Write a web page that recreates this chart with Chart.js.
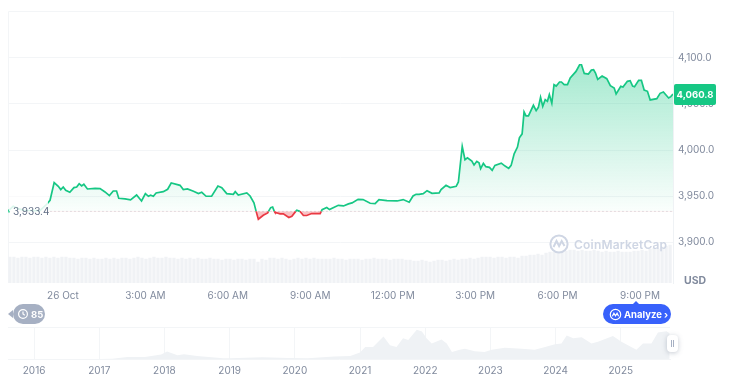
<!DOCTYPE html>
<html>
<head>
<meta charset="utf-8">
<title>ETH / USD</title>
<script src="https://cdn.jsdelivr.net/npm/chart.js@4"></script>
<style>
    html, body { margin: 0; background: #fff; font-family: Inter, sans-serif; }
    #page { position: relative; width: 729px; height: 383px; overflow: hidden; }
    canvas { position: absolute; left: 0; }
    .usd { position: absolute; left: 684px; top: 274px; font-size: 10.5px; font-weight: 700; color: #808a9d; }
    .marca { position: absolute; left: 549px; top: 234px; display: flex; align-items: center; color: #cfd6e4; font-size: 12px; font-weight: 600; letter-spacing: .2px; }
    .marca svg { margin-right: 5px; }
    .pilula { position: absolute; top: 304px; height: 20px; border-radius: 10px; color: #fff; font-size: 9.5px; font-weight: 700; display: flex; align-items: center; box-sizing: border-box; white-space: nowrap; }
    .pilula svg { flex: none; }
    .historico { left: 13px; width: 32px; background: #a6b0c3; padding-left: 4px; }
    .historico:before { content: ""; position: absolute; left: -5px; top: 6px; border: 4px solid transparent; border-left: 0; border-right: 5px solid #a6b0c3; }
    .analise { left: 603px; width: 68px; background: #3861fb; padding-left: 6px; }
    .analise:before { content: ""; position: absolute; left: 30px; top: -3px; border: 3px solid transparent; border-top: 0; border-bottom: 3px solid #3861fb; }
    .alca { position: absolute; left: 667px; top: 335px; width: 11px; height: 17px; background: #fff; border-radius: 4px; box-shadow: 0 1px 5px rgba(88,102,126,.35); }
    .alca:before { content: ""; position: absolute; left: 4px; top: 5px; width: 1px; height: 7px; background: #a6b0c3; box-shadow: 2px 0 0 #a6b0c3; }
</style>
</head>
<body>
<div id="page">
    <canvas id="grafico-preco" width="729" height="302" style="top:0"></canvas>
    <canvas id="grafico-historico" width="729" height="63" style="top:320px"></canvas>
    <div class="usd">USD</div>
    <div class="marca">
        <svg width="20" height="20" viewBox="0 0 20 20" fill="none" stroke="#cfd6e4" stroke-width="2"><circle cx="10" cy="10" r="8.6"/><path d="M4.5 13l3-6 2.6 5 2.6-5 2.8 5"/></svg>
        CoinMarketCap
    </div>
    <div class="pilula historico">
        <svg width="12" height="12" viewBox="0 0 12 12" fill="none" stroke="#fff" stroke-width="1.2"><circle cx="6" cy="6" r="4.4"/><path d="M6 3.4V6l1.8 1.2"/></svg>
        <span style="margin-left:2px">85</span>
    </div>
    <div class="pilula analise">
        <svg width="13" height="13" viewBox="0 0 13 13" fill="none" stroke="#fff" stroke-width="1.2"><circle cx="6.5" cy="6.5" r="5.2"/><path d="M3.4 8.2l1.5-3 1.6 2.6 1.6-2.6 1.5 3"/></svg>
        <span style="margin-left:2px">Analyze &rsaquo;</span>
    </div>
    <div class="alca"></div>
</div>
<script>
// Dados
const horas = [-1.99, -1.81, -1.63, -1.44, -1.08, -0.84, -0.59, -0.47, -0.32, -0.17, -0.08, 0.01, 0.10, 0.25, 0.40, 0.50, 0.59, 0.68, 0.76, 0.89,
    1.17, 1.35, 1.53, 1.69, 1.83, 1.95, 2.03, 2.26, 2.46, 2.68, 2.86, 3.00, 3.11, 3.19, 3.29, 3.39, 3.65, 3.81, 3.94, 4.26,
    4.38, 4.53, 4.75, 4.93, 5.05, 5.21, 5.41, 5.64, 5.78, 5.96, 6.20, 6.27, 6.38, 6.69, 6.81, 6.95, 7.03, 7.11, 7.29, 7.45,
    7.48, 7.56, 7.63, 7.69, 7.71, 7.90, 8.02, 8.22, 8.33, 8.47, 8.51, 8.62, 8.63, 8.75, 8.87, 9.05, 9.36, 9.40, 9.43, 9.60, 9.70, 10.02, 10.21, 10.39, 10.52,
    10.74, 10.92, 11.18, 11.36, 11.50, 11.79, 12.16, 12.38, 12.60, 12.74, 12.85, 12.96, 13.11, 13.25, 13.43, 13.69, 13.76, 13.94, 14.09, 14.31,
    14.39, 14.53, 14.63, 14.72, 14.88, 14.96, 15.06, 15.14, 15.20, 15.30, 15.39, 15.52, 15.62, 15.72, 15.95, 16.09, 16.22, 16.31, 16.42, 16.54,
    16.61, 16.71, 16.78, 16.85, 16.94, 17.12, 17.22, 17.30, 17.38, 17.46, 17.55, 17.63, 17.70, 17.79, 17.87, 17.95, 18.07, 18.14, 18.24, 18.36,
    18.46, 18.67, 18.80, 18.87, 18.97, 19.12, 19.23, 19.31, 19.38, 19.46, 19.62, 19.79, 19.92, 20.06, 20.13, 20.30, 20.38, 20.54, 20.64, 20.73,
    20.80, 20.95, 21.05, 21.15, 21.27, 21.37, 21.61, 21.73, 21.85, 22.04, 22.12, 22.20];

const precos = [3933.9, 3939.0, 3936.4, 3934.6, 3934.2, 3934.2, 3941.1, 3945.4, 3964.6, 3960.6, 3957.0, 3959.9, 3956.3, 3954.1, 3959.2, 3959.9, 3963.5, 3961.0, 3962.8, 3957.7,
    3958.4, 3958.1, 3954.5, 3950.5, 3955.5, 3955.5, 3947.6, 3946.9, 3945.8, 3951.2, 3944.7, 3952.7, 3949.8, 3950.9, 3949.8, 3953.4, 3954.8, 3957.4, 3964.2, 3961.7,
    3957.0, 3957.7, 3955.2, 3952.7, 3954.1, 3949.8, 3949.8, 3961.0, 3959.2, 3952.7, 3951.9, 3954.8, 3951.2, 3953.4, 3950.1, 3942.6, 3933.4, 3924.9, 3929.2, 3931.7,
    3933.4, 3937.5, 3938.2, 3933.4, 3932.5, 3930.7, 3930.7, 3926.7, 3928.1, 3933.4, 3934.6, 3933.4, 3933.2, 3928.9, 3928.9, 3931.0, 3931.0, 3933.4, 3935.3, 3937.5, 3935.3, 3940.0, 3939.3, 3941.5, 3942.6,
    3946.5, 3946.2, 3942.2, 3941.8, 3946.2, 3945.1, 3944.7, 3946.2, 3943.3, 3950.1, 3951.9, 3951.9, 3952.7, 3955.9, 3953.0, 3953.4, 3957.0, 3961.7, 3959.2, 3960.6,
    3965.3, 4003.9, 3989.5, 3991.6, 3988.0, 3983.7, 3987.7, 3986.2, 3979.7, 3985.5, 3981.9, 3981.2, 3977.9, 3983.3, 3985.8, 3982.6, 3980.1, 3983.3, 3995.9, 4003.2,
    4013.3, 4017.6, 4041.4, 4037.1, 4037.1, 4048.6, 4042.8, 4046.4, 4057.3, 4047.5, 4054.7, 4052.9, 4060.2, 4050.8, 4071.0, 4069.5, 4073.9, 4073.9, 4071.0, 4071.0,
    4078.2, 4085.4, 4092.6, 4092.6, 4083.2, 4082.5, 4086.8, 4087.2, 4083.6, 4076.7, 4080.4, 4077.5, 4069.9, 4067.4, 4060.9, 4069.2, 4068.4, 4074.6, 4075.3, 4069.5,
    4068.8, 4075.7, 4075.7, 4065.2, 4063.8, 4054.4, 4055.8, 4061.6, 4063.0, 4056.5, 4058.0, 4060.8];

const precoBase = 3933.4;
const precoAtual = 4060.8;

const volumes = [26, 26, 25, 26, 26, 25, 26, 26, 25, 26, 25, 26, 25, 26, 26, 25, 25, 24, 25, 25,
    24, 25, 24, 24, 25, 24, 25, 24, 25, 25, 24, 25, 26, 25, 24, 25, 26, 25, 25, 26,
    25, 25, 24, 25, 24, 25, 24, 25, 24, 24, 25, 24, 24, 23, 24, 24, 23, 24, 24, 23,
    24, 24, 21, 24, 23, 25, 25, 24, 25, 24, 23, 24, 25, 24, 25, 24, 25, 24, 24, 24,
    24, 25, 24, 24, 23, 24, 24, 24, 23, 24, 24, 25, 24, 24, 24, 23, 24, 24, 24, 23,
    23, 22, 22, 23, 22, 21, 22, 23, 23, 22, 23, 24, 23, 24, 24, 25, 24, 25, 26, 26,
    26, 25, 26, 26, 25, 26, 26, 25, 27, 27, 28, 28, 29, 28, 30, 31, 31, 31, 32, 32,
    33, 33, 32, 33, 32, 32, 33, 32, 31, 32, 31, 31, 32, 31, 31, 31, 32, 32, 33, 32,
    34, 35, 34, 36, 37, 38];
const volumeInicio = -1.93;
const volumePasso = 0.1456;

const ticksHora = [0, 3, 6, 9, 12, 15, 18, 21];
const rotulosHora = ['26 Oct', '3:00 AM', '6:00 AM', '9:00 AM', '12:00 PM', '3:00 PM', '6:00 PM', '9:00 PM'];
const ticksPreco = [3900, 3950, 4000, 4050, 4100];

const anos = [2015.6, 2016.5, 2017.0, 2017.2, 2017.43, 2017.7, 2017.95, 2018.04, 2018.2, 2018.3, 2018.5, 2018.9, 2019.0, 2019.5, 2019.9, 2020.2, 2020.6, 2020.85, 2021.0,
    2021.08, 2021.20, 2021.36, 2021.46, 2021.56, 2021.66, 2021.74, 2021.87, 2021.95, 2022.02, 2022.10, 2022.25, 2022.33, 2022.41, 2022.53, 2022.61, 2022.76, 2022.91,
    2023.02, 2023.22, 2023.48, 2023.68, 2023.84, 2023.99, 2024.09, 2024.17, 2024.27, 2024.40, 2024.55, 2024.65, 2024.88, 2025.01, 2025.11, 2025.24, 2025.34, 2025.47, 2025.57, 2025.70, 2025.75];
const historico = [1, 15, 10, 50, 300, 300, 700, 1150, 600, 750, 450, 120, 130, 270, 140, 130, 380, 450, 1000,
    1870, 1870, 3470, 2130, 1870, 3200, 2930, 4530, 4260, 3200, 2400, 3040, 2400, 1070, 1440, 1600, 1200, 1070,
    1440, 1760, 1600, 1440, 1870, 2300, 2400, 3630, 3200, 3360, 2400, 2670, 3570, 2670, 2130, 1440, 2400, 2400, 4100, 4320, 4000];
const ticksAno = [2016, 2017, 2018, 2019, 2020, 2021, 2022, 2023, 2024, 2025];

const verde = '#16c784';
const vermelho = '#ea3943';
const corTexto = '#808a9d';
const corGrade = '#f3f5f7';
const fonte = 'Inter, sans-serif';

function formatarPreco(valor) {
    return valor.toLocaleString('en-US', { minimumFractionDigits: 1, maximumFractionDigits: 1 });
}

// Gradientes presos na escala de preço
function gradienteVerde(context) {
    const { chart } = context;
    if (!chart.chartArea || !chart.scales.y) return 'rgba(22,199,132,.1)';
    const topo = chart.scales.y.getPixelForValue(Math.max(...precos));
    const base = chart.scales.y.getPixelForValue(precoBase);
    const g = chart.ctx.createLinearGradient(0, topo, 0, base);
    g.addColorStop(0, 'rgba(22,199,132,.38)');
    g.addColorStop(1, 'rgba(22,199,132,.02)');
    return g;
}

// Moldura, etiqueta da base e etiqueta do preço atual
const extras = {
    id: 'extras',
    beforeDatasetsDraw(chart) {
        const { ctx, chartArea: a } = chart;
        ctx.save();
        ctx.strokeStyle = corGrade;
        ctx.lineWidth = 1;
        ctx.beginPath();
        ctx.moveTo(a.left + .5, a.bottom);
        ctx.lineTo(a.left + .5, a.top + .5);
        ctx.lineTo(a.right, a.top + .5);
        ctx.stroke();
        ctx.restore();
    },
    afterDatasetsDraw(chart) {
        const { ctx, chartArea: a, scales } = chart;
        const yBase = scales.y.getPixelForValue(precoBase);
        const yAtual = scales.y.getPixelForValue(precoAtual);
        ctx.save();
        ctx.fillStyle = 'rgba(255,255,255,.85)';
        ctx.fillRect(a.left + 1, yBase - 15, 39, 29);
        ctx.fillStyle = verde;
        ctx.fillRect(a.left, yBase, 2, 1);
        ctx.font = '10px ' + fonte;
        ctx.fillStyle = '#616e85';
        ctx.textBaseline = 'middle';
        ctx.textAlign = 'left';
        ctx.fillText(formatarPreco(precoBase), a.left + 5, yBase + 1);
        ctx.fillStyle = verde;
        ctx.beginPath();
        ctx.roundRect(a.right + 1, yAtual - 10, 42, 21, 2);
        ctx.fill();
        ctx.font = '700 9.5px ' + fonte;
        ctx.fillStyle = '#fff';
        ctx.textAlign = 'center';
        ctx.fillText(formatarPreco(precoAtual), a.right + 22, yAtual + 1);
        ctx.restore();
    }
};

new Chart(document.getElementById('grafico-preco').getContext('2d'), {
    data: {
        datasets: [
            {
                type: 'line',
                data: horas.map((h, i) => ({ x: h, y: precos[i] })),
                borderColor: verde,
                borderWidth: 1.7,
                pointRadius: 0,
                tension: 0,
                backgroundColor: gradienteVerde,
                fill: { target: { value: precoBase }, below: 'rgba(234,57,67,.3)' },
                segment: {
                    borderColor: ctx => (ctx.p0.parsed.y <= precoBase && ctx.p1.parsed.y <= precoBase) ? vermelho : verde
                },
                order: 1
            },
            {
                type: 'line',
                data: [{ x: -0.6, y: precoBase }, { x: 22.2, y: precoBase }],
                borderColor: '#c3c8d2',
                borderWidth: 1,
                borderDash: [1, 3],
                pointRadius: 0,
                fill: false,
                order: 2
            },
            {
                type: 'bar',
                data: volumes.map((v, i) => ({ x: volumeInicio + i * volumePasso, y: v })),
                yAxisID: 'volume',
                backgroundColor: '#f0f2f5',
                barThickness: 2.6,
                order: 3
            }
        ]
    },
    options: {
        responsive: false,
        animation: false,
        layout: { padding: { left: 8, top: 10, right: 0, bottom: 0 } },
        plugins: { legend: { display: false }, tooltip: { enabled: false } },
        scales: {
            x: {
                type: 'linear',
                offset: false,
                min: -2,
                max: 22.2,
                afterBuildTicks: axis => { axis.ticks = ticksHora.map(value => ({ value })); },
                afterFit: axis => { axis.height = 19; },
                grid: { display: false, drawTicks: false },
                border: { display: false },
                ticks: {
                    autoSkip: false,
                    maxRotation: 0,
                    padding: 7,
                    color: corTexto,
                    font: { family: fonte, size: 10 },
                    callback: valor => rotulosHora[ticksHora.indexOf(valor)]
                }
            },
            y: {
                position: 'right',
                min: 3855.6,
                max: 4151,
                afterBuildTicks: axis => { axis.ticks = ticksPreco.map(value => ({ value })); },
                afterFit: axis => { axis.width = 56; },
                grid: { color: corGrade, drawTicks: false },
                border: { color: '#eff2f5' },
                ticks: {
                    padding: 5,
                    color: corTexto,
                    font: { family: fonte, size: 10 },
                    callback: formatarPreco
                }
            },
            volume: { display: false, min: 0, max: 273 }
        }
    },
    plugins: [extras]
});

new Chart(document.getElementById('grafico-historico').getContext('2d'), {
    type: 'line',
    data: {
        datasets: [{
            data: anos.map((a, i) => ({ x: a, y: historico[i] })),
            borderWidth: 0,
            pointRadius: 0,
            tension: 0,
            backgroundColor: '#eff2f5',
            fill: 'origin'
        }]
    },
    options: {
        responsive: false,
        animation: false,
        layout: { padding: { left: 8, top: 7, right: 59, bottom: 0 } },
        plugins: { legend: { display: false }, tooltip: { enabled: false } },
        scales: {
            x: {
                type: 'linear',
                min: 2015.6,
                max: 2025.755,
                afterBuildTicks: axis => { axis.ticks = ticksAno.map(value => ({ value })); },
                afterFit: axis => { axis.height = 24; },
                grid: { color: corGrade, drawTicks: false },
                border: { color: corGrade },
                ticks: {
                    autoSkip: false,
                    maxRotation: 0,
                    padding: 6,
                    color: corTexto,
                    font: { family: fonte, size: 10 },
                    callback: valor => String(valor)
                }
            },
            y: {
                display: true,
                min: 0,
                max: 4960,
                afterBuildTicks: axis => { axis.ticks = [{ value: 4960 }]; },
                afterFit: axis => { axis.width = 0; },
                grid: { color: corGrade, drawTicks: false },
                border: { display: false },
                ticks: { display: false }
            }
        }
    }
});
</script>
</body>
</html>
